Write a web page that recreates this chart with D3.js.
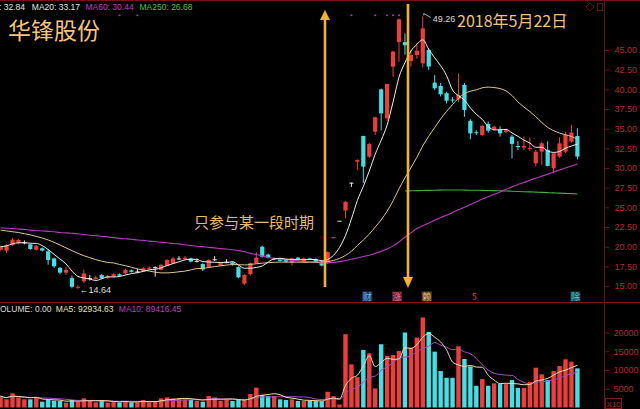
<!DOCTYPE html>
<html><head><meta charset="utf-8">
<script src="https://cdn.jsdelivr.net/npm/d3@7"></script>
<style>
html,body{margin:0;padding:0;background:#000;}
svg{display:block;}
</style></head>
<body>
<svg id="c" width="640" height="409"></svg>
<script>
// ---------- DATA ----------
const opens = [19.6,19.5,20.2,20.5,20.55,20.3,19.6,19.8,19.4,18.5,
17.3,16.7,16.0,14.85,15.6,16.0,15.9,16.4,16.0,16.2,
16.5,16.6,17.0,16.85,16.85,17.2,17.4,17.05,17.55,17.9,
18.5,18.45,18.5,18.2,17.8,17.4,18.4,17.6,18.1,18.0,
17.4,15.3,16.5,17.9,20.0,19.0,18.5,18.5,18.3,18.0,
18.6,18.1,18.5,18.4,
17.9,17.9,21.1,23.3,24.6,28.14,30.8,34.07,31.45,34.62,40.0,36.32,42.88,46.0,46.0,43.6,44.36,43.3,45.0,40.85,40.43,39.5,38.7,38.7,40.55,36.0,34.55,34.2,35.6,34.9,34.9,34.6,33.99,32.8,32.6,32.5,30.6,32.08,32.3,29.96,31.45,32.08,33.35,34.07];
const highs = [20.1,20.3,21.1,21.0,20.8,20.4,20.2,19.9,19.7,18.6,
17.4,17.4,16.3,15.1,17.05,16.4,16.3,16.5,16.4,16.6,
16.6,17.2,17.1,17.2,17.4,17.5,17.5,17.8,18.4,18.7,
18.8,18.8,18.6,18.5,17.9,18.4,18.8,18.0,18.4,18.1,
17.5,16.5,18.0,19.3,20.1,19.1,18.6,18.6,18.4,18.6,
18.7,18.6,18.6,18.5,
18.3,19.4,21.2,23.3,25.8,28.14,31.1,34.1,33.2,36.5,40.1,40.7,44.9,49.0,47.1,45.0,45.85,49.26,45.2,41.8,40.8,39.7,39.0,42.0,40.8,36.2,34.8,35.5,35.9,35.35,35.3,35.0,34.2,33.4,34.0,33.9,32.3,33.35,33.4,32.0,33.9,34.6,35.5,35.05];
const lows = [19.5,19.2,20.1,20.3,20.3,19.6,19.5,19.4,17.7,17.3,
16.5,16.4,14.7,14.64,15.4,15.7,15.8,15.9,15.9,16.1,
16.2,16.5,16.7,16.6,16.8,17.1,16.2,17.0,17.5,17.8,
18.3,18.3,18.0,18.0,16.9,17.3,18.2,17.5,17.9,17.6,
16.0,15.1,16.3,17.8,18.6,18.5,18.3,18.1,18.0,17.6,
18.3,18.0,18.3,18.0,
17.5,17.8,21.1,23.3,23.6,27.6,29.75,28.1,31.3,34.2,34.8,36.0,41.6,43.5,44.4,42.9,43.9,42.8,42.46,39.9,39.1,38.2,38.3,38.4,36.5,33.65,34.2,34.1,34.5,34.75,34.0,34.4,31.2,32.3,32.3,32.2,30.2,30.4,30.2,29.3,31.3,31.9,33.2,31.1];
const closes = [20.0,20.2,20.9,20.85,20.55,19.7,20.1,19.5,18.3,17.5,
16.7,17.05,14.9,14.9,16.6,16.0,16.1,15.95,16.2,16.5,
16.3,17.05,16.8,16.85,17.25,17.35,17.4,17.7,18.3,18.5,
18.5,18.6,18.1,18.2,17.1,18.3,18.4,17.9,18.1,17.8,
16.1,16.4,17.9,18.6,18.7,18.6,18.5,18.2,18.1,18.5,
18.4,18.5,18.35,18.1,
17.6,19.3,21.2,23.3,25.7,28.14,31.0,30.17,33.06,36.44,36.95,40.68,44.79,48.9,45.6,44.36,44.9,47.75,42.9,40.13,39.37,38.56,38.6,39.28,37.38,34.4,34.5,35.35,34.75,35.25,34.4,34.8,33.06,32.65,32.8,32.55,32.08,33.14,30.26,31.87,33.14,34.2,34.5,31.45];
const volumes = [3070,2180,3780,2710,2180,2180,2710,1560,2000,1820,
1730,1290,2000,1470,2440,1820,1380,2000,1290,1560,
1380,1730,1380,1380,2000,1380,1730,2440,2710,2440,
2440,2180,2000,1820,1560,3070,2710,1820,2180,1730,
2180,2000,3600,5290,3330,3070,3070,2180,2000,2180,
1730,1730,1820,1730,
1690,4190,3030,800,19550,11500,8100,15350,14460,5090,16870,13740,14000,15080,20000,15960,18640,24000,20170,14900,9720,7930,7930,16330,12940,10980,5790,7580,5790,6430,6250,6250,7310,5250,5250,6780,10610,8840,7310,9720,11060,12850,12210,10440];
// MA20 values read for the first 19 sessions (earlier history not shown)
const ma20Lead = [22.1,22.0,21.9,21.8,21.65,21.5,21.3,21.1,20.85,20.55,20.2,19.85,19.5,19.15,18.85,18.6,18.35,18.15,18.0];
const ma60 = [22.4,22.35,22.3,22.25,22.2,22.1,22.05,22.0,21.95,21.9,
21.8,21.75,21.7,21.65,21.55,21.45,21.4,21.3,21.25,21.15,
21.05,21.0,20.95,20.85,20.8,20.7,20.65,20.55,20.5,20.4,
20.35,20.25,20.15,20.05,20.0,19.9,19.85,19.75,19.7,19.6,
19.5,19.35,19.15,19.0,18.8,18.65,18.5,18.4,18.35,18.25,
18.2,18.1,18.05,18.0,17.95,17.95,18.0,18.1,18.25,18.4,
18.55,18.75,18.9,19.15,19.4,19.7,20.1,20.6,21.2,21.75,
22.3,22.65,23.0,23.35,23.7,24.0,24.35,24.7,25.0,25.35,
25.7,26.05,26.35,26.65,26.95,27.3,27.6,27.9,28.15,28.45,
28.7,28.95,29.2,29.5,29.75,30.0,30.25,30.5];
const ma250Start = 68;
const ma250Vals = [27.08,27.1,27.12,27.14,27.16,27.18,27.19,27.2,27.2,27.2,27.19,27.18,27.17,27.16,27.14,27.12,27.1,27.08,27.05,27.02,26.99,26.96,26.93,26.9,26.87,26.84,26.8,26.77,26.74,26.7];
const priceTicks = [15,17.5,20,22.5,25,27.5,30,32.5,35,37.5,40,42.5,45];
const volumeTicks = [5000,10000,15000,20000];
const markerLabels = ['财','涨','赖','5','除'];
const markerIdx = [62,67,72,80,97];
const dotIdx = [20,23,59,63,65,66,67,95];
const legendTop = ['MA5: 32.84','MA20: 33.17','MA60: 30.44','MA250: 26.68'];
const legendVol = ['VOLUME: 0.00','MA5: 92934.63','MA10: 89416.45'];
const titleText = '华锋股份';
const dateText = '2018年5月22日';
const noteText = '只参与某一段时期';

// ---------- DRAW ----------
const W = 640, H = 409;
const svg = d3.select('#c');
svg.append('rect').attr('width', W).attr('height', H).attr('fill', '#000');
const n = closes.length;
const x = d3.scaleLinear().domain([0, n - 1]).range([0.6, 577.4]);
const y = d3.scaleLinear().domain([15, 45]).range([286, 50]);
const yv = d3.scaleLinear().domain([0, 20000]).range([407.5, 332.5]);
const UP = '#f23b3b', DN = '#3fe0e6', DOJI = '#e6e6e6';
const col = i => closes[i] > opens[i] ? UP : (closes[i] < opens[i] ? DN : DOJI);
const colV = i => closes[i] >= opens[i] ? UP : DN;
const AX = '#5e1414', LAB = '#b02a2a';
const NUMF = '"Liberation Sans", Arial, sans-serif';
const CJK = '"Noto Sans CJK SC", sans-serif';

// moving averages
function rolling(arr, w) {
  return arr.map((_, i) => {
    const s = Math.max(0, i - w + 1);
    return d3.mean(arr.slice(s, i + 1));
  });
}
const ma5 = rolling(closes, 5);
const ma20 = closes.map((_, i) => i < ma20Lead.length ? ma20Lead[i] : d3.mean(closes.slice(i - 19, i + 1)));
const ma250 = closes.map((_, i) => i >= ma250Start ? ma250Vals[i - ma250Start] : null);
const vma5 = rolling(volumes, 5);
const vma10 = rolling(volumes, 10);

// frame lines
svg.append('line').attr('x1', 0).attr('x2', W).attr('y1', 0.5).attr('y2', 0.5).attr('stroke', '#6e1414');
svg.append('line').attr('x1', 0).attr('x2', W).attr('y1', 302.5).attr('y2', 302.5).attr('stroke', '#7a1616');
svg.append('line').attr('x1', 604.5).attr('x2', 604.5).attr('y1', 0).attr('y2', H).attr('stroke', AX);

// axes
const pa = svg.append('g').attr('transform', 'translate(604.5,0)')
  .call(d3.axisRight(y).tickValues(priceTicks).tickFormat(d3.format('.2f')).tickSize(5).tickPadding(5));
pa.select('.domain').remove();
pa.selectAll('line').attr('stroke', AX);
pa.selectAll('text').attr('fill', LAB).style('font-family', NUMF).style('font-size', '9px');

const va = svg.append('g').attr('transform', 'translate(604.5,0)')
  .call(d3.axisRight(yv).tickValues(volumeTicks).tickFormat(d3.format('d')).tickSize(5).tickPadding(4));
va.select('.domain').remove();
va.selectAll('line').attr('stroke', AX);
va.selectAll('text').attr('fill', LAB).style('font-family', NUMF).style('font-size', '9px');

svg.append('rect').attr('x', 605.5).attr('y', 398.5).attr('width', 16).attr('height', 10)
  .attr('fill', 'none').attr('stroke', '#7a1a1a');
svg.append('text').attr('x', 613.5).attr('y', 406.5).attr('text-anchor', 'middle')
  .attr('fill', LAB).style('font-family', NUMF).style('font-size', '8px').text('X10');

// top-right small icons
svg.append('path').attr('d', 'M590,3 L594,7 L590,11 L586,7 Z').attr('fill', 'none').attr('stroke', '#5a1212');
svg.append('rect').attr('x', 597.5).attr('y', 3.5).attr('width', 5).attr('height', 7).attr('fill', 'none').attr('stroke', '#5a1212');

// candles
const cg = svg.append('g');
d3.range(n).forEach(i => {
  const c = col(i), xi = x(i);
  cg.append('line').attr('x1', xi).attr('x2', xi).attr('y1', y(highs[i])).attr('y2', y(lows[i]))
    .attr('stroke', c).attr('stroke-width', 1);
  const top = y(Math.max(opens[i], closes[i]));
  const h = Math.max(1, Math.abs(y(opens[i]) - y(closes[i])));
  cg.append('rect').attr('x', xi - 2.1).attr('y', top).attr('width', 4.2).attr('height', h).attr('fill', c);
});

// MA lines
const line = d3.line().defined(d => d != null).x((d, i) => x(i)).y(d => y(d)).curve(d3.curveMonotoneX);
svg.append('path').attr('d', line(ma250)).attr('fill', 'none').attr('stroke', '#3fae3f').attr('stroke-width', 1.1);
svg.append('path').attr('d', line(ma60)).attr('fill', 'none').attr('stroke', '#b23cb8').attr('stroke-width', 1.1);
svg.append('path').attr('d', line(ma20)).attr('fill', 'none').attr('stroke', '#d9c88c').attr('stroke-width', 1);
svg.append('path').attr('d', line(ma5)).attr('fill', 'none').attr('stroke', '#ececec').attr('stroke-width', 1);

// volume bars
d3.range(n).forEach(i => {
  svg.append('rect').attr('x', x(i) - 2.2).attr('y', yv(volumes[i])).attr('width', 4.4)
    .attr('height', yv(0) - yv(volumes[i])).attr('fill', colV(i));
});
const vline = d3.line().x((d, i) => x(i)).y(d => yv(d)).curve(d3.curveMonotoneX);
svg.append('path').attr('d', vline(vma10)).attr('fill', 'none').attr('stroke', '#a24cc8').attr('stroke-width', 1);
svg.append('path').attr('d', vline(vma5)).attr('fill', 'none').attr('stroke', '#efe2a0').attr('stroke-width', 1);

// high / low annotations
const hiI = d3.maxIndex(highs), loI = d3.minIndex(lows);
const hx = x(hiI), hy = y(highs[hiI]);
svg.append('path').attr('d', `M${hx + 1},${hy - 1} L${hx + 1},${hy - 3} L${hx + 8},${hy + 1}`)
  .attr('fill', 'none').attr('stroke', '#d8d8d8').attr('stroke-width', 0.8);
svg.append('text').attr('x', hx + 10).attr('y', hy + 5.5).attr('fill', '#dcdcdc')
  .style('font-family', NUMF).style('font-size', '9px').text(d3.format('.2f')(highs[hiI]));
const lx = x(loI), ly = y(lows[loI]);
svg.append('text').attr('x', lx + 1.5).attr('y', ly + 4).attr('fill', '#dcdcdc')
  .style('font-family', NUMF).style('font-size', '9px').text('←' + d3.format('.2f')(lows[loI]));

// event dots at top
dotIdx.forEach(i => svg.append('rect').attr('x', x(i) - 1).attr('y', 14.5).attr('width', 2).attr('height', 1.6).attr('fill', '#a03ca6'));

// markers row
const mStyle = [{c:'#6ab8e6',b:'#1d3f66'},{c:'#f07a96',b:'#5a1a2a'},{c:'#e6bf78',b:'#5a4018'},{c:'#e83a3a',b:'none'},{c:'#52cfd0',b:'#124a50'}];
markerLabels.forEach((t, k) => {
  const mx = x(markerIdx[k]) - 2;
  if (mStyle[k].b !== 'none') svg.append('rect').attr('x', mx - 5).attr('y', 291.5).attr('width', 10).attr('height', 10).attr('fill', mStyle[k].b);
  svg.append('text').attr('x', mx).attr('y', 300).attr('text-anchor', 'middle').attr('fill', mStyle[k].c)
    .style('font-family', CJK).style('font-size', '9px').text(t);
});

// arrows
const AR = '#f5b224';
svg.append('line').attr('x1', 325).attr('x2', 325).attr('y1', 18).attr('y2', 287).attr('stroke', AR).attr('stroke-width', 2.6);
svg.append('path').attr('d', 'M325,10 L330,20 L320,20 Z').attr('fill', AR);
svg.append('line').attr('x1', 408).attr('x2', 408).attr('y1', 4).attr('y2', 279).attr('stroke', AR).attr('stroke-width', 2.6);
svg.append('path').attr('d', 'M408,288 L403,277 L413,277 Z').attr('fill', AR);

// legends (one text element each, coloured runs)
const topCols = ['#e4e4e4', '#e4e4e4', '#c23cc4', '#46c046'];
const topGap = [0, 4.5, 3, 3.5];
const lt = svg.append('text').attr('x', -18.5).attr('y', 9.5)
  .style('font-family', NUMF).style('font-size', '8.5px');
legendTop.forEach((t, k) => lt.append('tspan').attr('dx', topGap[k]).attr('fill', topCols[k]).text((k ? ' ' : '') + t));
const volCols = ['#dcdcdc', '#e6e0b4', '#c03cc0'];
const volGap = [0, 2, 3];
const lv = svg.append('text').attr('x', -5.7).attr('y', 312)
  .style('font-family', NUMF).style('font-size', '8.5px');
legendVol.forEach((t, k) => lv.append('tspan').attr('dx', volGap[k]).attr('fill', volCols[k]).text((k ? ' ' : '') + t));

// titles
svg.append('text').attr('x', 8).attr('y', 38.5).attr('fill', '#f4c47e')
  .style('font-family', CJK).style('font-size', '23px').text(titleText);
svg.append('text').attr('x', 457).attr('y', 27).attr('fill', '#f2c274')
  .style('font-family', CJK).style('font-size', '16px').text(dateText);
svg.append('text').attr('x', 194).attr('y', 228).attr('fill', '#e9b96c')
  .style('font-family', CJK).style('font-size', '15px').text(noteText);
</script>
</body></html>
